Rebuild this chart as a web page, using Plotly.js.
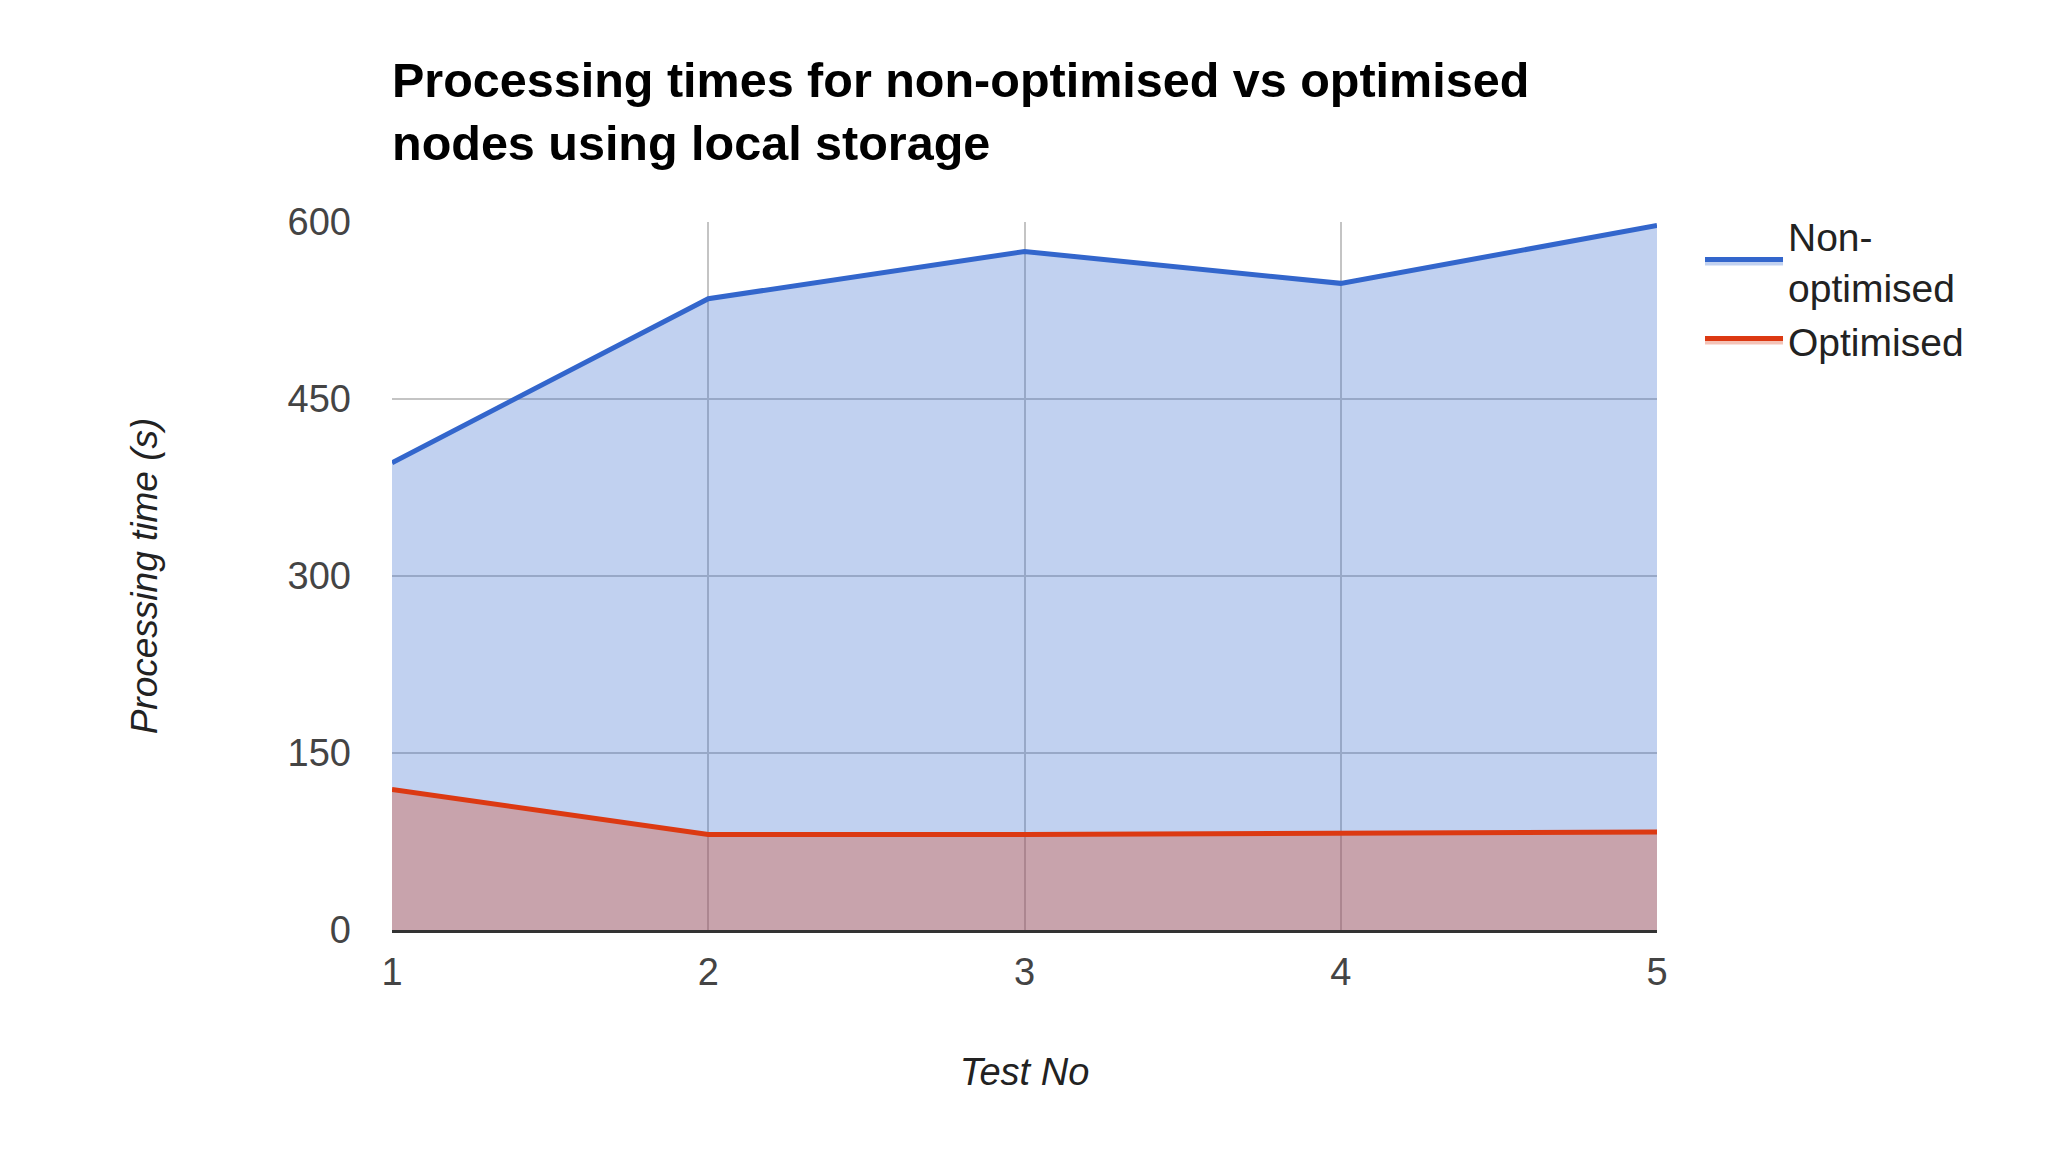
<!DOCTYPE html>
<html>
<head>
<meta charset="utf-8">
<script src="https://cdn.plot.ly/plotly-3.0.1.min.js"></script>
<style>
  html, body { margin: 0; padding: 0; background: #fff; }
  #chart { width: 2048px; height: 1152px; }
</style>
</head>
<body>
<div id="chart"></div>
<script>
var testNo = [1, 2, 3, 4, 5];
var nonOptimised = [396, 535, 575, 548, 597];
var optimised = [119, 81, 81, 82, 83];
var yTicks = [0, 150, 300, 450, 600];

var baseFont = 'Liberation Sans, Arial, sans-serif';

var trace1 = {
  x: testNo,
  y: nonOptimised,
  type: 'scatter',
  mode: 'lines',
  name: 'Non-<br>optimised',
  fill: 'tozeroy',
  fillcolor: 'rgba(51,102,204,0.3)',
  line: { color: '#3366cc', width: 5 },
  hoverinfo: 'x+y'
};

var trace2 = {
  x: testNo,
  y: optimised,
  type: 'scatter',
  mode: 'lines',
  name: 'Optimised',
  fill: 'tozeroy',
  fillcolor: 'rgba(220,57,18,0.3)',
  line: { color: '#dc3912', width: 5 },
  hoverinfo: 'x+y'
};

var data = [trace1, trace2];

var layout = {
  width: 2048,
  height: 1152,
  paper_bgcolor: '#ffffff',
  plot_bgcolor: '#ffffff',
  margin: { l: 392, r: 391, t: 222, b: 222 },
  font: { family: baseFont, size: 38, color: '#444' },
  title: {
    text: '<b>Processing times for non-optimised vs optimised<br>nodes using local storage</b>',
    font: { family: baseFont, size: 48.5, color: '#000' },
    x: 392 / 2048,
    xref: 'container',
    xanchor: 'left',
    y: 1 - 97 / 1152,
    yref: 'container',
    yanchor: 'top'
  },
  xaxis: {
    range: [1, 5],
    tickvals: testNo,
    showgrid: true,
    gridcolor: '#c4c4c4',
    gridwidth: 2,
    zeroline: false,
    showline: true,
    linecolor: '#333333',
    linewidth: 3,
    ticks: '',
    ticklabelstandoff: 6,
    tickfont: { size: 38, color: '#444' },
    title: {
      text: '<i>Test No</i>',
      font: { size: 38, color: '#222' },
      standoff: 67
    }
  },
  yaxis: {
    range: [0, 600],
    tickvals: yTicks,
    showgrid: true,
    gridcolor: '#c4c4c4',
    gridwidth: 2,
    zeroline: false,
    showline: false,
    ticks: '',
    ticklabelstandoff: 40,
    tickfont: { size: 38, color: '#444' },
    title: {
      text: '<i>Processing time (s)</i>',
      font: { size: 37, color: '#222' },
      standoff: 118
    }
  },
  legend: {
    x: 1.034,
    xanchor: 'left',
    y: 1.025,
    yanchor: 'top',
    itemwidth: 78,
    tracegroupgap: 24,
    font: { size: 39, color: '#222' },
    bgcolor: 'rgba(0,0,0,0)'
  },
  showlegend: true
};

Plotly.newPlot('chart', data, layout, { displayModeBar: false, staticPlot: true });
</script>
</body>
</html>
